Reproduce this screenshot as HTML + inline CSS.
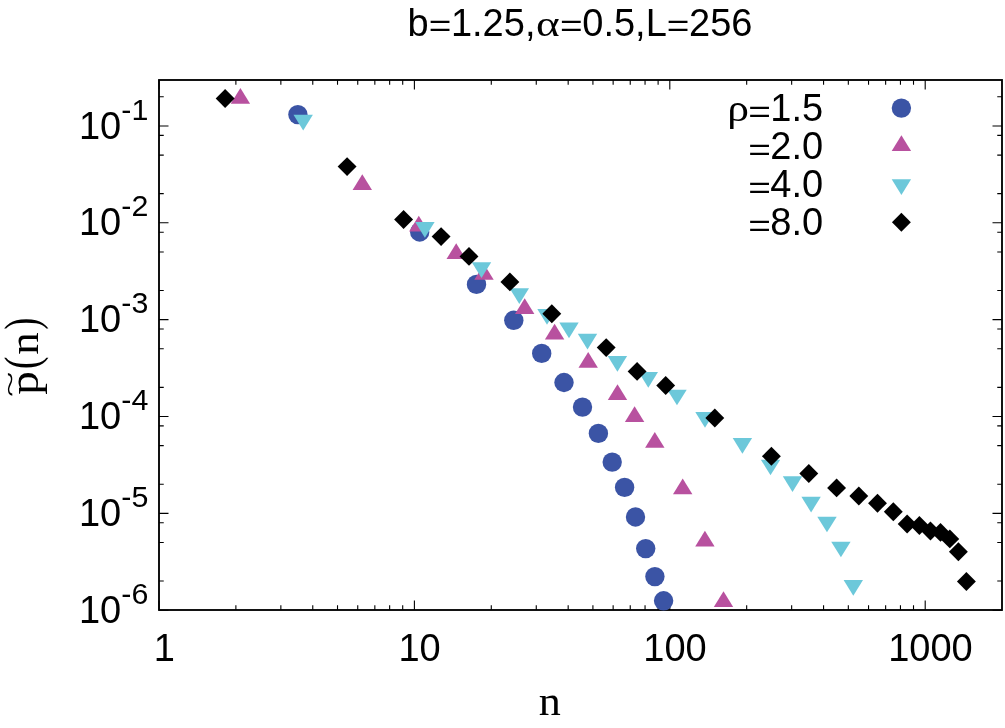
<!DOCTYPE html>
<html><head><meta charset="utf-8"><title>b=1.25, alpha=0.5, L=256</title>
<style>html,body{margin:0;padding:0;background:#fff;overflow:hidden}svg{display:block}</style>
</head><body>
<svg width="1005" height="728" viewBox="0 0 1005 728">
<rect width="1005" height="728" fill="#fff"/>
<path d="M159 610v-9.5M159 80v9.5M235.88 610v-4.75M235.88 80v4.75M280.86 610v-4.75M280.86 80v4.75M312.77 610v-4.75M312.77 80v4.75M337.52 610v-4.75M337.52 80v4.75M357.74 610v-4.75M357.74 80v4.75M374.84 610v-4.75M374.84 80v4.75M389.65 610v-4.75M389.65 80v4.75M402.71 610v-4.75M402.71 80v4.75M414.4 610v-9.5M414.4 80v9.5M491.28 610v-4.75M491.28 80v4.75M536.26 610v-4.75M536.26 80v4.75M568.17 610v-4.75M568.17 80v4.75M592.92 610v-4.75M592.92 80v4.75M613.14 610v-4.75M613.14 80v4.75M630.24 610v-4.75M630.24 80v4.75M645.05 610v-4.75M645.05 80v4.75M658.11 610v-4.75M658.11 80v4.75M669.8 610v-9.5M669.8 80v9.5M746.68 610v-4.75M746.68 80v4.75M791.66 610v-4.75M791.66 80v4.75M823.57 610v-4.75M823.57 80v4.75M848.32 610v-4.75M848.32 80v4.75M868.54 610v-4.75M868.54 80v4.75M885.64 610v-4.75M885.64 80v4.75M900.45 610v-4.75M900.45 80v4.75M913.51 610v-4.75M913.51 80v4.75M925.2 610v-9.5M925.2 80v9.5M159 610.2h9.5M1002 610.2h-9.5M159 581.05h4.75M1002 581.05h-4.75M159 542.5h4.75M1002 542.5h-4.75M159 522.74h4.75M1002 522.74h-4.75M159 513.35h9.5M1002 513.35h-9.5M159 484.2h4.75M1002 484.2h-4.75M159 445.65h4.75M1002 445.65h-4.75M159 425.89h4.75M1002 425.89h-4.75M159 416.5h9.5M1002 416.5h-9.5M159 387.35h4.75M1002 387.35h-4.75M159 348.8h4.75M1002 348.8h-4.75M159 329.04h4.75M1002 329.04h-4.75M159 319.65h9.5M1002 319.65h-9.5M159 290.5h4.75M1002 290.5h-4.75M159 251.95h4.75M1002 251.95h-4.75M159 232.19h4.75M1002 232.19h-4.75M159 222.8h9.5M1002 222.8h-9.5M159 193.65h4.75M1002 193.65h-4.75M159 155.1h4.75M1002 155.1h-4.75M159 135.34h4.75M1002 135.34h-4.75M159 125.95h9.5M1002 125.95h-9.5M159 96.8h4.75M1002 96.8h-4.75" stroke="#000" stroke-width="1.1" fill="none"/>
<rect x="159" y="80" width="843" height="530" stroke="#000" stroke-width="1.85" fill="none"/>
<circle cx="297.9" cy="114.6" r="9.7" fill="#3b54a5"/>
<circle cx="419.7" cy="232" r="9.7" fill="#3b54a5"/>
<circle cx="476.5" cy="284.4" r="9.7" fill="#3b54a5"/>
<circle cx="513.8" cy="320.3" r="9.7" fill="#3b54a5"/>
<circle cx="541.7" cy="353.4" r="9.7" fill="#3b54a5"/>
<circle cx="564" cy="382.5" r="9.7" fill="#3b54a5"/>
<circle cx="582.5" cy="407.1" r="9.7" fill="#3b54a5"/>
<circle cx="598.4" cy="433.4" r="9.7" fill="#3b54a5"/>
<circle cx="612.2" cy="462.1" r="9.7" fill="#3b54a5"/>
<circle cx="624.6" cy="487.4" r="9.7" fill="#3b54a5"/>
<circle cx="635.5" cy="517" r="9.7" fill="#3b54a5"/>
<circle cx="645.7" cy="548.6" r="9.7" fill="#3b54a5"/>
<circle cx="654.9" cy="576.6" r="9.7" fill="#3b54a5"/>
<circle cx="663.6" cy="600.8" r="9.7" fill="#3b54a5"/>
<path d="M240.4 87.99L250.1 103.7L230.7 103.7Z" fill="#b8519f"/>
<path d="M362.3 174.24L372 189.95L352.6 189.95Z" fill="#b8519f"/>
<path d="M418.8 215.84L428.5 231.55L409.1 231.55Z" fill="#b8519f"/>
<path d="M456.2 243.34L465.9 259.05L446.5 259.05Z" fill="#b8519f"/>
<path d="M484 264.04L493.7 279.75L474.3 279.75Z" fill="#b8519f"/>
<path d="M524.7 298.34L534.4 314.05L515 314.05Z" fill="#b8519f"/>
<path d="M554.6 323.84L564.3 339.55L544.9 339.55Z" fill="#b8519f"/>
<path d="M588.2 351.94L597.9 367.65L578.5 367.65Z" fill="#b8519f"/>
<path d="M617.5 384.34L627.2 400.05L607.8 400.05Z" fill="#b8519f"/>
<path d="M634.6 406.24L644.3 421.95L624.9 421.95Z" fill="#b8519f"/>
<path d="M654.8 432.04L664.5 447.75L645.1 447.75Z" fill="#b8519f"/>
<path d="M682.7 478.44L692.4 494.15L673 494.15Z" fill="#b8519f"/>
<path d="M704.9 530.74L714.6 546.45L695.2 546.45Z" fill="#b8519f"/>
<path d="M723.5 591.24L733.2 606.95L713.8 606.95Z" fill="#b8519f"/>
<path d="M303.2 130.56L312.9 114.85L293.5 114.85Z" fill="#6cc8da"/>
<path d="M424.9 237.66L434.6 221.95L415.2 221.95Z" fill="#6cc8da"/>
<path d="M481.5 277.96L491.2 262.25L471.8 262.25Z" fill="#6cc8da"/>
<path d="M519.3 304.06L529 288.35L509.6 288.35Z" fill="#6cc8da"/>
<path d="M547 324.66L556.7 308.95L537.3 308.95Z" fill="#6cc8da"/>
<path d="M569 338.16L578.7 322.45L559.3 322.45Z" fill="#6cc8da"/>
<path d="M587.5 349.46L597.2 333.75L577.8 333.75Z" fill="#6cc8da"/>
<path d="M617.4 371.66L627.1 355.95L607.7 355.95Z" fill="#6cc8da"/>
<path d="M648.3 387.76L658 372.05L638.6 372.05Z" fill="#6cc8da"/>
<path d="M677 405.36L686.7 389.65L667.3 389.65Z" fill="#6cc8da"/>
<path d="M705 427.76L714.7 412.05L695.3 412.05Z" fill="#6cc8da"/>
<path d="M742.4 453.66L752.1 437.95L732.7 437.95Z" fill="#6cc8da"/>
<path d="M770.5 475.36L780.2 459.65L760.8 459.65Z" fill="#6cc8da"/>
<path d="M792.5 492.06L802.2 476.35L782.8 476.35Z" fill="#6cc8da"/>
<path d="M811.1 512.46L820.8 496.75L801.4 496.75Z" fill="#6cc8da"/>
<path d="M827 532.36L836.7 516.65L817.3 516.65Z" fill="#6cc8da"/>
<path d="M840.9 557.36L850.6 541.65L831.2 541.65Z" fill="#6cc8da"/>
<path d="M853.3 595.76L863 580.05L843.6 580.05Z" fill="#6cc8da"/>
<path d="M225.15 89.05L234.6 98.5L225.15 107.95L215.7 98.5Z" fill="#000000"/>
<path d="M347.1 157.15L356.55 166.6L347.1 176.05L337.65 166.6Z" fill="#000000"/>
<path d="M403.6 210.05L413.05 219.5L403.6 228.95L394.15 219.5Z" fill="#000000"/>
<path d="M441.1 227.15L450.55 236.6L441.1 246.05L431.65 236.6Z" fill="#000000"/>
<path d="M469 246.95L478.45 256.4L469 265.85L459.55 256.4Z" fill="#000000"/>
<path d="M509.9 272.45L519.35 281.9L509.9 291.35L500.45 281.9Z" fill="#000000"/>
<path d="M551.8 304.25L561.25 313.7L551.8 323.15L542.35 313.7Z" fill="#000000"/>
<path d="M606.2 338.15L615.65 347.6L606.2 357.05L596.75 347.6Z" fill="#000000"/>
<path d="M637.1 361.95L646.55 371.4L637.1 380.85L627.65 371.4Z" fill="#000000"/>
<path d="M665.7 376.05L675.15 385.5L665.7 394.95L656.25 385.5Z" fill="#000000"/>
<path d="M714.8 408.55L724.25 418L714.8 427.45L705.35 418Z" fill="#000000"/>
<path d="M771.4 446.85L780.85 456.3L771.4 465.75L761.95 456.3Z" fill="#000000"/>
<path d="M808.8 464.05L818.25 473.5L808.8 482.95L799.35 473.5Z" fill="#000000"/>
<path d="M836.6 478.45L846.05 487.9L836.6 497.35L827.15 487.9Z" fill="#000000"/>
<path d="M858.8 486.55L868.25 496L858.8 505.45L849.35 496Z" fill="#000000"/>
<path d="M877.5 493.75L886.95 503.2L877.5 512.65L868.05 503.2Z" fill="#000000"/>
<path d="M893.3 502.25L902.75 511.7L893.3 521.15L883.85 511.7Z" fill="#000000"/>
<path d="M907.15 514.55L916.6 524L907.15 533.45L897.7 524Z" fill="#000000"/>
<path d="M919.4 516L928.85 525.45L919.4 534.9L909.95 525.45Z" fill="#000000"/>
<path d="M930.45 521.55L939.9 531L930.45 540.45L921 531Z" fill="#000000"/>
<path d="M940.5 522.95L949.95 532.4L940.5 541.85L931.05 532.4Z" fill="#000000"/>
<path d="M949.8 529.45L959.25 538.9L949.8 548.35L940.35 538.9Z" fill="#000000"/>
<path d="M958.4 542.35L967.85 551.8L958.4 561.25L948.95 551.8Z" fill="#000000"/>
<path d="M966.4 572.05L975.85 581.5L966.4 590.95L956.95 581.5Z" fill="#000000"/>
<circle cx="901.4" cy="108.1" r="9.7" fill="#3b54a5"/>
<path d="M901.4 135.24L911.1 150.95L891.7 150.95Z" fill="#b8519f"/>
<path d="M901.4 195.06L911.1 179.35L891.7 179.35Z" fill="#6cc8da"/>
<path d="M901.4 212.85L910.85 222.3L901.4 231.75L891.95 222.3Z" fill="#000000"/>
<g font-family="&quot;Liberation Sans&quot;, Arial, Helvetica, sans-serif" font-size="38" fill="#000"><text x="148.3" y="138.55" text-anchor="end">10<tspan font-size="30.4" dy="-19">-1</tspan></text><text x="148.3" y="235.4" text-anchor="end">10<tspan font-size="30.4" dy="-19">-2</tspan></text><text x="148.3" y="332.25" text-anchor="end">10<tspan font-size="30.4" dy="-19">-3</tspan></text><text x="148.3" y="429.1" text-anchor="end">10<tspan font-size="30.4" dy="-19">-4</tspan></text><text x="148.3" y="525.95" text-anchor="end">10<tspan font-size="30.4" dy="-19">-5</tspan></text><text x="148.3" y="622.8" text-anchor="end">10<tspan font-size="30.4" dy="-19">-6</tspan></text></g>
<g font-family="&quot;Liberation Sans&quot;, Arial, Helvetica, sans-serif" font-size="38" fill="#000"><text x="164.2" y="661" text-anchor="middle">1</text><text x="419.6" y="661" text-anchor="middle">10</text><text x="675" y="661" text-anchor="middle">100</text><text x="930.4" y="661" text-anchor="middle">1000</text></g>
<g font-family="&quot;Liberation Sans&quot;, Arial, Helvetica, sans-serif" font-size="38" fill="#000"><text x="407.6" y="35.7">b</text><text transform="translate(428.73 36.45) scale(1.02 0.82)">=</text><text x="450.93" y="35.7">1.25,</text><text transform="translate(560.1 36.45) scale(1.02 0.82)">=</text><text x="582.29" y="35.7">0.5,L</text><text transform="translate(666.81 36.45) scale(1.02 0.82)">=</text><text x="689" y="35.7">256</text></g>
<text transform="translate(535.99 35.6) scale(1.25 1)" font-family="&quot;Liberation Serif&quot;, &quot;Times New Roman&quot;, serif" font-size="36.1">α</text>
<g font-family="&quot;Liberation Sans&quot;, Arial, Helvetica, sans-serif" font-size="38" fill="#000"><text transform="translate(748.18 121.55) scale(1.02 0.82)">=</text><text x="770.37" y="120.8">1.5</text><text transform="translate(748.18 159.58) scale(1.02 0.82)">=</text><text x="770.37" y="158.83">2.0</text><text transform="translate(748.18 197.61) scale(1.02 0.82)">=</text><text x="770.37" y="196.86">4.0</text><text transform="translate(748.18 235.64) scale(1.02 0.82)">=</text><text x="770.37" y="234.89">8.0</text></g>
<text transform="translate(727.26 120.8) scale(1.16 1)" font-family="&quot;Liberation Serif&quot;, &quot;Times New Roman&quot;, serif" font-size="37.5">ρ</text>
<text transform="translate(538.79 715.1) scale(1.05 1)" font-family="&quot;Liberation Serif&quot;, &quot;Times New Roman&quot;, serif" font-size="42">n</text>
<g transform="translate(38.3 400) rotate(-90)" font-family="&quot;Liberation Serif&quot;, &quot;Times New Roman&quot;, serif" fill="#000"><text transform="translate(5.24 0) scale(1.12 1)" font-size="42">p</text><text transform="translate(2.88 -19.25) scale(1.02 0.61)" font-size="46">~</text><text transform="translate(30.81 0) scale(0.8 1)" font-size="48">(</text><text transform="translate(45.16 0) scale(1.07 1)" font-size="42">n</text><text transform="translate(70.24 0) scale(0.75 1)" font-size="48">)</text></g>
</svg>
</body></html>
